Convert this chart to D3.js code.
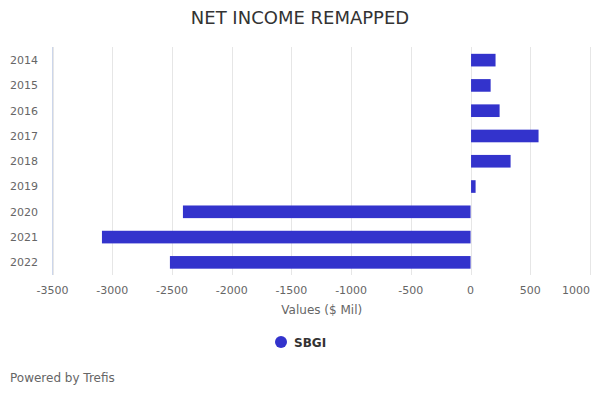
<!DOCTYPE html>
<html>
<head>
<meta charset="utf-8">
<script src="https://cdn.jsdelivr.net/npm/d3@7"></script>
<style>
  body { margin: 0; background: #fff; }
  svg { font-family: "DejaVu Sans", sans-serif; }
  .grid line { stroke: #e6e6e6; stroke-width: 1; }
  .ylab text { fill: #666; font-size: 11px; }
  .xlab text { fill: #666; font-size: 11px; }
</style>
</head>
<body>
<svg id="chart" width="600" height="400"></svg>
<script>
const years = ['2014', '2015', '2016', '2017', '2018', '2019', '2020', '2021', '2022'];
const netIncome = [205, 164, 239, 565, 331, 38, -2408, -3086, -2517];
const xTicks = [-3500, -3000, -2500, -2000, -1500, -1000, -500, 0, 500, 1000];
const seriesName = 'SBGI';

const barColor = '#3333cc';
const plotLeft = 52.5, plotRight = 590, plotTop = 47, plotBottom = 275;

const svg = d3.select('#chart');

const x = d3.scaleLinear().domain([-3500, 1000]).range([plotLeft, plotRight]);
const y = d3.scaleBand().domain(years).range([plotTop + 0.5, plotBottom]).paddingInner(0.5).paddingOuter(0.25);

// title
svg.append('text')
  .attr('x', 300).attr('y', 24)
  .attr('text-anchor', 'middle')
  .attr('fill', '#333')
  .style('font-size', '18px')
  .text('NET INCOME REMAPPED');

// vertical grid lines
const grid = svg.append('g').attr('class', 'grid');
grid.selectAll('line')
  .data(xTicks)
  .enter().append('line')
  .attr('x1', d => Math.round(x(d)) + 0.5)
  .attr('x2', d => Math.round(x(d)) + 0.5)
  .attr('y1', plotTop)
  .attr('y2', plotBottom);

// category axis line
svg.append('line')
  .attr('x1', plotLeft).attr('x2', plotLeft)
  .attr('y1', plotTop).attr('y2', plotBottom)
  .attr('stroke', '#ccd6eb');

// bars
svg.selectAll('rect.bar')
  .data(years.map((yr, i) => ({ yr, v: netIncome[i] })))
  .enter().append('rect')
  .attr('class', 'bar')
  .attr('x', d => d.v >= 0 ? x(0) + 0.5 : x(d.v))
  .attr('width', d => Math.abs(x(d.v) - x(0)))
  .attr('y', d => y(d.yr))
  .attr('height', y.bandwidth())
  .attr('fill', barColor);

// y labels
const ylab = svg.append('g').attr('class', 'ylab');
ylab.selectAll('text')
  .data(years)
  .enter().append('text')
  .attr('x', 38)
  .attr('y', d => y(d) + y.bandwidth() / 2)
  .attr('dy', '0.35em')
  .attr('text-anchor', 'end')
  .text(d => d);

// x labels
const xlab = svg.append('g').attr('class', 'xlab');
xlab.selectAll('text')
  .data(xTicks)
  .enter().append('text')
  .attr('x', d => x(d))
  .attr('y', 294)
  .attr('text-anchor', (d, i) => i === xTicks.length - 1 ? 'end' : 'middle')
  .text(d => d);

// axis title
svg.append('text')
  .attr('x', (plotLeft + plotRight) / 2 + 0.5)
  .attr('y', 314)
  .attr('text-anchor', 'middle')
  .attr('fill', '#666')
  .style('font-size', '12px')
  .text('Values ($ Mil)');

// legend
svg.append('circle')
  .attr('cx', 281).attr('cy', 342).attr('r', 6)
  .attr('fill', barColor);
svg.append('text')
  .attr('x', 294).attr('y', 346.5)
  .attr('fill', '#333')
  .style('font-size', '12px')
  .style('font-weight', 'bold')
  .text(seriesName);

// credit
svg.append('text')
  .attr('x', 10).attr('y', 382)
  .attr('fill', '#666')
  .style('font-size', '12px')
  .text('Powered by Trefis');
</script>
</body>
</html>
